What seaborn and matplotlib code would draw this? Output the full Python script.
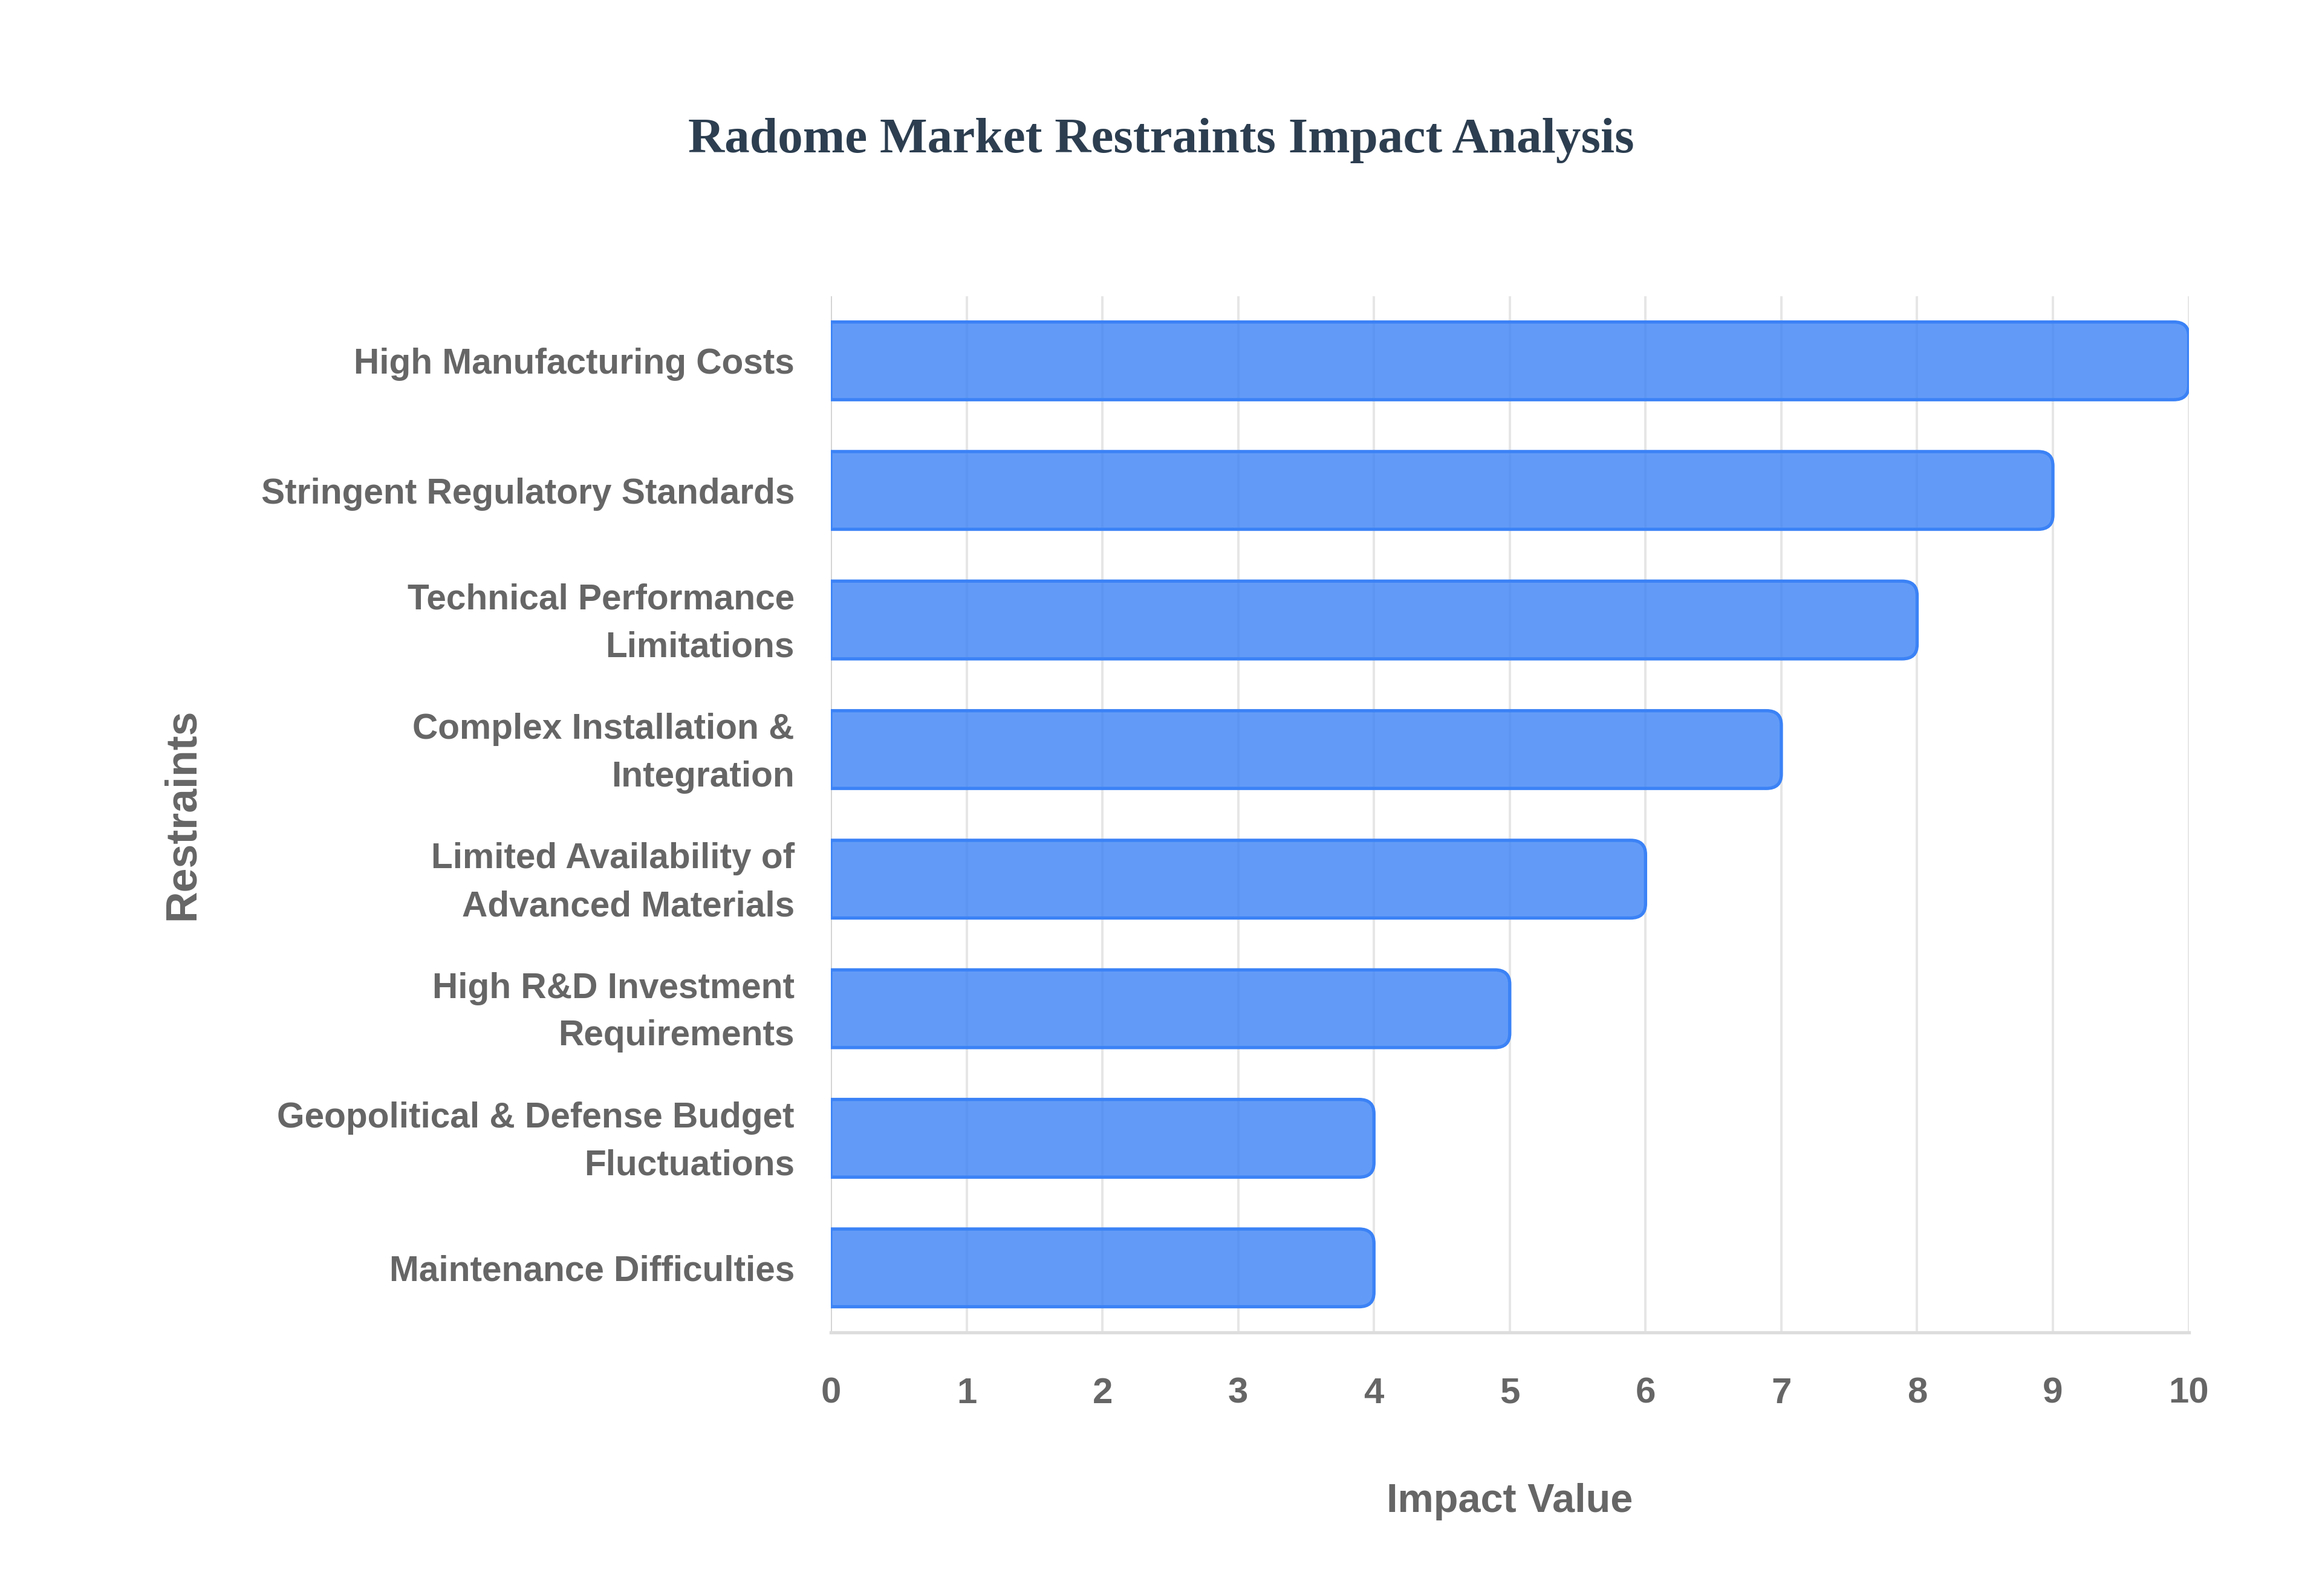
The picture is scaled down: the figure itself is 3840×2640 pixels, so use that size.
import matplotlib
matplotlib.use("Agg")
import matplotlib.pyplot as plt
import matplotlib.transforms as mtransforms
import seaborn as sns
import pandas as pd
from matplotlib.path import Path
from matplotlib.patches import PathPatch
from matplotlib.colors import to_rgba

restraints = [
    "High Manufacturing Costs",
    "Stringent Regulatory Standards",
    "Technical Performance\nLimitations",
    "Complex Installation &\nIntegration",
    "Limited Availability of\nAdvanced Materials",
    "High R&D Investment\nRequirements",
    "Geopolitical & Defense Budget\nFluctuations",
    "Maintenance Difficulties",
]
impact = [10, 9, 8, 7, 6, 5, 4, 4]
x_ticks = list(range(0, 11))

df = pd.DataFrame({"Restraints": restraints, "Impact Value": impact})

sns.set_theme(style="white")
plt.rcParams["font.family"] = ["Liberation Sans", "DejaVu Sans"]

bar_edge = "#3b82f6"
text_grey = "#666666"
grid_grey = "#e6e6e6"

fig = plt.figure(figsize=(16, 11), dpi=240)
ax = fig.add_axes([0.3578, 0.165, 0.5848, 0.6495])

sns.barplot(data=df, x="Impact Value", y="Restraints", orient="h",
            color=bar_edge, width=0.6, ax=ax)


def rounded_right(x0, y0, x1, y1, rx, ry):
    # square on the left, rounded on the right
    verts = [(x0, y0), (x1 - rx, y0), (x1, y0), (x1, y0 + ry),
             (x1, y1 - ry), (x1, y1), (x1 - rx, y1), (x0, y1), (x0, y0)]
    codes = [Path.MOVETO, Path.LINETO, Path.CURVE3, Path.CURVE3,
             Path.LINETO, Path.CURVE3, Path.CURVE3, Path.LINETO, Path.CLOSEPOLY]
    return Path(verts, codes)


# swap seaborn's rectangles for ones with rounded ends
for p in list(ax.patches):
    x0, y0 = p.get_x(), p.get_y()
    w, h = p.get_width(), p.get_height()
    p.remove()
    path = rounded_right(x0, y0, x0 + w, y0 + h, 0.11, 0.11 if h > 0 else -0.11)
    ax.add_patch(PathPatch(path, facecolor=to_rgba(bar_edge, 0.8),
                           edgecolor=bar_edge, linewidth=1.6, zorder=3))

ax.set_xlim(0, 10)
ax.set_ylim(7.5, -0.5)
ax.set_xticks(x_ticks)
ax.xaxis.grid(True, color=grid_grey, linewidth=1.2, zorder=0)
ax.yaxis.grid(False)
ax.set_axisbelow(True)

for side in ["top", "right", "left"]:
    ax.spines[side].set_visible(False)
ax.spines["bottom"].set_color("#dddddd")
ax.spines["bottom"].set_linewidth(1.6)
ax.axvline(0, color="#d5d5d5", linewidth=1.2, zorder=1)

ax.tick_params(axis="x", length=8, width=1.2, color=grid_grey, pad=14,
               labelsize=18, labelcolor=text_grey)
ax.tick_params(axis="y", length=0, pad=18, labelsize=17.6, labelcolor=text_grey)
for lbl in ax.get_xticklabels() + ax.get_yticklabels():
    lbl.set_fontweight("bold")
nudge = mtransforms.ScaledTranslation(0, -1.8 / 72, fig.dpi_scale_trans)
for lbl in ax.get_yticklabels():
    lbl.set_linespacing(1.55)
    lbl.set_verticalalignment("center")
    lbl.set_transform(lbl.get_transform() + nudge)

ax.set_xlabel("Impact Value", fontsize=20, fontweight="bold", color=text_grey,
              labelpad=36)
ax.set_ylabel("Restraints", fontsize=21.5, fontweight="bold", color=text_grey)
ax.yaxis.set_label_coords(-0.4623, 0.5)

fig.text(0.5, 0.912, "Radome Market Restraints Impact Analysis",
         ha="center", va="center", fontsize=25, fontweight="bold",
         color="#2c3e50", family=["Liberation Serif", "DejaVu Serif"])

fig.savefig("out.png", dpi=240, facecolor="white")
